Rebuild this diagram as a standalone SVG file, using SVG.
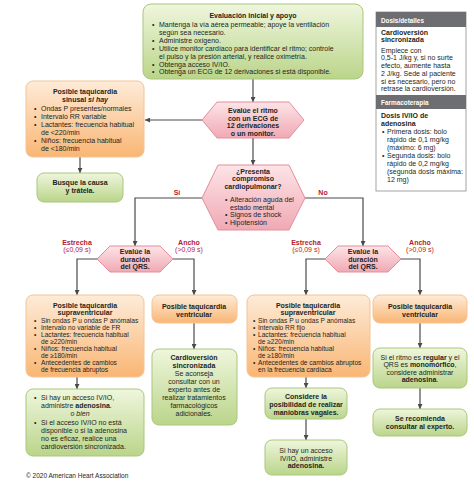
<svg xmlns="http://www.w3.org/2000/svg" width="474" height="483" viewBox="0 0 474 483">
<defs>
<style>
text{font-family:"Liberation Sans",Arial,sans-serif;font-size:7px;fill:#231f20}
.b{font-weight:bold}
.c{text-anchor:middle}
.i{font-style:italic}
.s{font-size:6.6px}
.red{fill:#b5202e;font-weight:bold;text-anchor:middle}
.hd{fill:#fff;font-weight:bold;font-size:6.4px}
.og{fill:url(#ogr);stroke:#f2c495;stroke-width:1}
.gr{fill:url(#ggr);stroke:#a9c77d;stroke-width:1}
.pk{fill:url(#pgr);stroke:#e38e9c;stroke-width:1}
.ln{fill:none;stroke:#4a4a4a;stroke-width:1.2}
.ar{marker-end:url(#ah)}
</style>
<linearGradient id="ogr" x1="0" y1="0" x2="0" y2="1"><stop offset="0" stop-color="#feebd8"/><stop offset="1" stop-color="#f9b674"/></linearGradient>
<linearGradient id="ggr" x1="0" y1="0" x2="0" y2="1"><stop offset="0" stop-color="#eff6dd"/><stop offset="1" stop-color="#bad58a"/></linearGradient>
<linearGradient id="pgr" x1="0" y1="0" x2="0" y2="1"><stop offset="0" stop-color="#fde4e7"/><stop offset="1" stop-color="#f0a9b4"/></linearGradient>
<marker id="ah" viewBox="0 0 6 6" refX="6" refY="3" markerWidth="5" markerHeight="5" orient="auto" markerUnits="userSpaceOnUse"><path d="M0,0 L6,3 L0,6 z" fill="#4a4a4a"/></marker>
</defs>
<rect width="474" height="483" fill="#fff"/>

<g id="connectors">
<line class="ln ar" x1="253" y1="79" x2="253" y2="102"/>
<line class="ln ar" x1="253" y1="138" x2="253" y2="165"/>
<line class="ln ar" x1="202" y1="120" x2="145" y2="120"/>
<line class="ln ar" x1="80" y1="157" x2="80" y2="173"/>
<polyline class="ln ar" points="202,198 135,198 135,246"/>
<polyline class="ln ar" points="305,198 363,198 363,246"/>
<polyline class="ln ar" points="97,259 77,259 77,295"/>
<polyline class="ln ar" points="173,259 194,259 194,295"/>
<polyline class="ln ar" points="325,259 306,259 306,295"/>
<polyline class="ln ar" points="401,259 420,259 420,295"/>
<line class="ln ar" x1="77" y1="377" x2="77" y2="389"/>
<line class="ln ar" x1="194" y1="323" x2="194" y2="349"/>
<line class="ln ar" x1="306" y1="377" x2="306" y2="388"/>
<line class="ln ar" x1="306" y1="419" x2="306" y2="440"/>
<line class="ln ar" x1="420" y1="323" x2="420" y2="348"/>
<line class="ln ar" x1="420" y1="388" x2="420" y2="409"/>
</g>

<g id="labels">
<text class="red" x="177" y="194.5">Sí</text>
<text class="red" x="323" y="194.5">No</text>
<text class="red" x="77" y="244.5">Estrecha</text>
<text class="red" x="77" y="251.5" style="font-weight:normal">(≤0,09 s)</text>
<text class="red" x="189" y="244.5">Ancho</text>
<text class="red" x="189" y="251.5" style="font-weight:normal">(&gt;0,09 s)</text>
<text class="red" x="306" y="244.5">Estrecha</text>
<text class="red" x="306" y="251.5" style="font-weight:normal">(≤0,09 s)</text>
<text class="red" x="420" y="244.5">Ancho</text>
<text class="red" x="420" y="251.5" style="font-weight:normal">(&gt;0,09 s)</text>
</g>

<g id="n-evaluacion">
<rect class="gr" x="143" y="4" width="220" height="75" rx="8"/>
<text class="b c" x="253" y="17.5">Evaluación inicial y apoyo</text>
<text x="152" y="26.5">•</text><text x="159" y="26.5">Mantenga la vía aérea permeable; apoye la ventilación</text>
<text x="159" y="34.5">según sea necesario.</text>
<text x="152" y="42.5">•</text><text x="159" y="42.5">Administre oxígeno.</text>
<text x="152" y="50.5">•</text><text x="159" y="50.5">Utilice monitor cardíaco para identificar el ritmo; controle</text>
<text x="159" y="58.5">el pulso y la presión arterial, y realice oximetría.</text>
<text x="152" y="66.5">•</text><text x="159" y="66.5">Obtenga acceso IV/IO.</text>
<text x="152" y="74">•</text><text x="159" y="74">Obtenga un ECG de 12 derivaciones si está disponible.</text>
</g>

<g id="n-dosis">
<rect x="376" y="12" width="90" height="179" fill="#fff" stroke="#8c8c8c" stroke-width="0.8"/>
<rect x="376" y="12" width="90" height="15" fill="#6d6e71"/>
<text class="hd" x="381" y="22.5">Dosis/detalles</text>
<text class="b" x="381" y="34.5">Cardioversión</text>
<text class="b" x="381" y="42">sincronizada</text>
<text x="381" y="52.5">Empiece con</text>
<text x="381" y="60">0,5-1 J/kg y, si no surte</text>
<text x="381" y="67.5">efecto, aumente hasta</text>
<text x="381" y="75.5">2 J/kg. Sede al paciente</text>
<text x="381" y="83.5">si es necesario, pero no</text>
<text x="381" y="91">retrase la cardioversión.</text>
<rect x="376" y="95" width="90" height="14" fill="#6d6e71"/>
<text class="hd" x="381" y="104.5">Farmacoterapia</text>
<text class="b" x="381" y="117.5">Dosis IV/IO de</text>
<text class="b" x="381" y="125.5">adenosina</text>
<text x="382" y="134">•</text><text x="387" y="134">Primera dosis: bolo</text>
<text x="387" y="142">rápido de 0,1 mg/kg</text>
<text x="387" y="149.5">(máximo: 6 mg)</text>
<text x="382" y="157.5">•</text><text x="387" y="157.5">Segunda dosis: bolo</text>
<text x="387" y="165.5">rápido de 0,2 mg/kg</text>
<text x="387" y="173.5">(segunda dosis máxima:</text>
<text x="387" y="181.5">12 mg)</text>
</g>

<g id="n-sinusal">
<rect class="og" x="26" y="81" width="118" height="76" rx="7"/>
<text class="b c" x="85" y="93.5">Posible taquicardia</text>
<text class="b c" x="85" y="101.5">sinusal <tspan class="i">si hay</tspan></text>
<text x="34" y="110.5">•</text><text x="41" y="110.5">Ondas P presentes/normales</text>
<text x="34" y="118.5">•</text><text x="41" y="118.5">Intervalo RR variable</text>
<text x="34" y="126.5">•</text><text x="41" y="126.5">Lactantes: frecuencia habitual</text>
<text x="41" y="134.5">de &lt;220/min</text>
<text x="34" y="142.5">•</text><text x="41" y="142.5">Niños: frecuencia habitual</text>
<text x="41" y="150.5">de &lt;180/min</text>
</g>

<g id="n-causa">
<rect class="gr" x="37" y="173" width="86" height="29" rx="7"/>
<text class="b c" x="80" y="184.5">Busque la causa</text>
<text class="b c" x="80" y="192.5">y trátela.</text>
</g>

<g id="n-ritmo">
<polygon class="pk" points="202,120 217,102 289,102 304,120 289,138 217,138"/>
<text class="b c" x="253" y="112.5">Evalúe el ritmo</text>
<text class="b c" x="253" y="120.5">con un ECG de</text>
<text class="b c" x="253" y="128">12 derivaciones</text>
<text class="b c" x="253" y="135.5">o un monitor.</text>
</g>

<g id="n-compromiso">
<polygon class="pk" points="202,198 218,165 289,165 305,198 289,230 218,230"/>
<text class="b c" x="253" y="173.5">¿Presenta</text>
<text class="b c" x="253" y="181">compromiso</text>
<text class="b c" x="253" y="188.5">cardiopulmonar?</text>
<text x="225" y="201.5">•</text><text x="230" y="201.5">Alteración aguda del</text>
<text x="230" y="209.5">estado mental</text>
<text x="225" y="216.5">•</text><text x="230" y="216.5">Signos de shock</text>
<text x="225" y="224.5">•</text><text x="230" y="224.5">Hipotensión</text>
</g>

<g id="n-qrs-si">
<polygon class="pk" points="97,259 110,246 160,246 173,259 160,272 110,272"/>
<text class="b c" x="135" y="253.5">Evalúe la</text>
<text class="b c" x="135" y="261.5">duración</text>
<text class="b c" x="135" y="269">del QRS.</text>
</g>

<g id="n-qrs-no">
<polygon class="pk" points="325,259 338,246 388,246 401,259 388,272 338,272"/>
<text class="b c" x="363" y="253.5">Evalúe la</text>
<text class="b c" x="363" y="261.5">duración</text>
<text class="b c" x="363" y="269">del QRS.</text>
</g>

<g id="n-tsv-si">
<rect class="og" x="26" y="295" width="118" height="82" rx="7"/>
<text class="b c" x="85" y="307.5">Posible taquicardia</text>
<text class="b c" x="85" y="315">supraventricular</text>
<text class="s" x="34" y="322.5">•</text><text class="s" x="41" y="322.5">Sin ondas P u ondas P anómalas</text>
<text class="s" x="34" y="329.5">•</text><text class="s" x="41" y="329.5">Intervalo no variable de FR</text>
<text class="s" x="34" y="336.5">•</text><text class="s" x="41" y="336.5">Lactantes: frecuencia habitual</text>
<text class="s" x="41" y="343.5">de ≥220/min</text>
<text class="s" x="34" y="350.5">•</text><text class="s" x="41" y="350.5">Niños: frecuencia habitual</text>
<text class="s" x="41" y="357.5">de ≥180/min</text>
<text class="s" x="34" y="364.5">•</text><text class="s" x="41" y="364.5">Antecedentes de cambios</text>
<text class="s" x="41" y="371.5">de frecuencia abruptos</text>
</g>

<g id="n-tv-si">
<rect class="og" x="152" y="295" width="85" height="28" rx="7"/>
<text class="b c" x="194" y="308.5">Posible taquicardia</text>
<text class="b c" x="194" y="316.5">ventricular</text>
</g>

<g id="n-cardioversion">
<rect class="gr" x="152" y="349" width="85" height="76" rx="7"/>
<text class="b c" x="194" y="359.5">Cardioversión</text>
<text class="b c" x="194" y="367.5">sincronizada</text>
<text class="c" x="194" y="375.5">Se aconseja</text>
<text class="c" x="194" y="383.5">consultar con un</text>
<text class="c" x="194" y="392">experto antes de</text>
<text class="c" x="194" y="400">realizar tratamientos</text>
<text class="c" x="194" y="408">farmacológicos</text>
<text class="c" x="194" y="415.5">adicionales.</text>
</g>

<g id="n-adenosina-si">
<rect class="gr" x="26" y="389" width="118" height="67" rx="7"/>
<text x="34" y="399.5">•</text><text x="41" y="399.5">Si hay un acceso IV/IO,</text>
<text x="41" y="407.5">administre <tspan class="b">adenosina</tspan>.</text>
<text class="c i" x="80" y="415.5">o bien</text>
<text x="34" y="424.5">•</text><text x="41" y="424.5">Si el acceso IV/IO no está</text>
<text x="41" y="432.5">disponible o si la adenosina</text>
<text x="41" y="440.5">no es eficaz, realice una</text>
<text x="41" y="448.5">cardioversión sincronizada.</text>
</g>

<g id="n-tsv-no">
<rect class="og" x="247" y="295" width="123" height="82" rx="7"/>
<text class="b c" x="308" y="307.5">Posible taquicardia</text>
<text class="b c" x="308" y="315">supraventricular</text>
<text class="s" x="253" y="322.5">•</text><text class="s" x="258" y="322.5">Sin ondas P u ondas P anómalas</text>
<text class="s" x="253" y="329.5">•</text><text class="s" x="258" y="329.5">Intervalo RR fijo</text>
<text class="s" x="253" y="336.5">•</text><text class="s" x="258" y="336.5">Lactantes: frecuencia habitual</text>
<text class="s" x="258" y="343.5">de ≥220/min</text>
<text class="s" x="253" y="350.5">•</text><text class="s" x="258" y="350.5">Niños: frecuencia habitual</text>
<text class="s" x="258" y="357.5">de ≥180/min</text>
<text class="s" x="253" y="364.5">•</text><text class="s" x="258" y="364.5">Antecedentes de cambios abruptos</text>
<text class="s" x="258" y="371.5">en la frecuencia cardíaca</text>
</g>

<g id="n-tv-no">
<rect class="og" x="373" y="295" width="94" height="28" rx="7"/>
<text class="b c" x="420" y="308.5">Posible taquicardia</text>
<text class="b c" x="420" y="316.5">ventricular</text>
</g>

<g id="n-adenosina-regular">
<rect class="gr" x="373" y="348" width="94" height="40" rx="7"/>
<text class="c" x="420" y="359.5">Si el ritmo es <tspan class="b">regular</tspan> y el</text>
<text class="c" x="420" y="366.5">QRS es <tspan class="b">monomórfico</tspan>,</text>
<text class="c" x="420" y="374.5">considere administrar</text>
<text class="c" x="420" y="381.5"><tspan class="b">adenosina</tspan>.</text>
</g>

<g id="n-experto">
<rect class="gr" x="373" y="409" width="94" height="27" rx="7"/>
<text class="b c" x="420" y="420.5">Se recomienda</text>
<text class="b c" x="420" y="429">consultar al experto.</text>
</g>

<g id="n-vagales">
<rect class="gr" x="265" y="388" width="82" height="31" rx="7"/>
<text class="b c" x="306" y="398.5">Considere la</text>
<text class="b c" x="306" y="406.5">posibilidad de realizar</text>
<text class="b c" x="306" y="414.5">maniobras vagales.</text>
</g>

<g id="n-adenosina-no">
<rect class="gr" x="265" y="440" width="82" height="35" rx="7"/>
<text class="c" x="306" y="452.5">Si hay un acceso</text>
<text class="c" x="306" y="460.5">IV/IO, administre</text>
<text class="b c" x="306" y="467.5">adenosina.</text>
</g>

<text x="26" y="477.5" style="font-size:6.5px">© 2020 American Heart Association</text>
</svg>
